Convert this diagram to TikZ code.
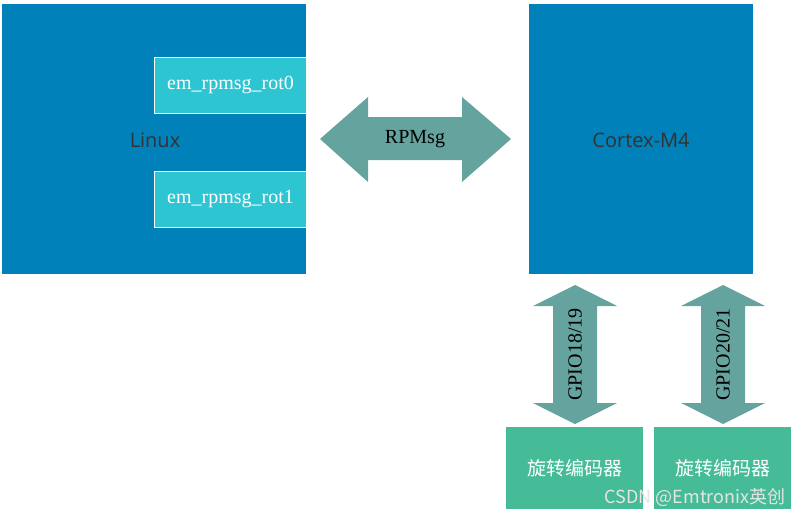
\documentclass[tikz,border=0pt]{standalone}
\usepackage{fontspec}
\setmainfont{Liberation Serif}
\newfontfamily\sans{Open Sans}
\newfontfamily\cjk{Noto Sans CJK SC}
\definecolor{bl}{HTML}{0081B9}
\definecolor{cy}{HTML}{2EC5D3}
\definecolor{ar}{HTML}{64A39E}
\definecolor{gr}{HTML}{45BB98}
\begin{document}
\begin{tikzpicture}[x=1pt,y=-1pt,
  box/.style={fill=#1,draw=none,inner sep=0,anchor=north west},
  lbl/.style={font=\fontsize{20}{24}\selectfont},
  arr/.style={fill=ar,draw=none}]
\useasboundingbox (0,0) rectangle (801,519);
\node[box=bl,minimum width=304,minimum height=270] (lin) at (2,4) {};
\node[font=\sans\fontsize{20}{24}\selectfont,text=black!80] at (155,140) {Linux};
\node[box=cy,minimum width=152,minimum height=56,draw=white,line width=1pt] (r0) at (154,57) {};
\node[text=white,lbl] at (r0.center) {em\_rpmsg\_rot0};
\node[box=cy,minimum width=152,minimum height=56,draw=white,line width=1pt] (r1) at (154,171) {};
\node[text=white,lbl] at (r1.center) {em\_rpmsg\_rot1};
\node[box=bl,minimum width=224,minimum height=270] (cm) at (529,4) {};
\node[font=\sans\fontsize{20}{24}\selectfont,text=black!80] at (641,140) {Cortex-M4};
\fill[arr] (320,139)--(368,97)--(368,117)--(462,117)--(462,97)--(511,139)--(462,182)--(462,160)--(368,160)--(368,182)--cycle;
\node[lbl] (h) at (415,139) {RPMsg};
\node[box=gr,minimum width=137,minimum height=82] (g1) at (506,427) {};
\node[text=white,font=\cjk\fontsize{19}{22}\selectfont] at (g1.center) {旋转编码器};
\node[box=gr,minimum width=137,minimum height=82] (g2) at (654,427) {};
\node[text=white,font=\cjk\fontsize{19}{22}\selectfont] at (g2.center) {旋转编码器};
\foreach \cx/\t/\n in {575/GPIO18\slash19/v1,723/GPIO20\slash21/v2}{
  \fill[arr] (\cx,285)--(\cx+42,306)--(\cx+22,306)--(\cx+22,403)--(\cx+42,403)--(\cx,424)--(\cx-42,403)--(\cx-22,403)--(\cx-22,306)--(\cx-42,306)--cycle;
  \node[lbl,rotate=90] (\n) at (\cx,354.5) {\t};
}
\node[text=white!90!black,font=\cjk\fontsize{18}{20}\selectfont,anchor=east] at (789,497) {CSDN @Emtronix英创};
\end{tikzpicture}
\end{document}
